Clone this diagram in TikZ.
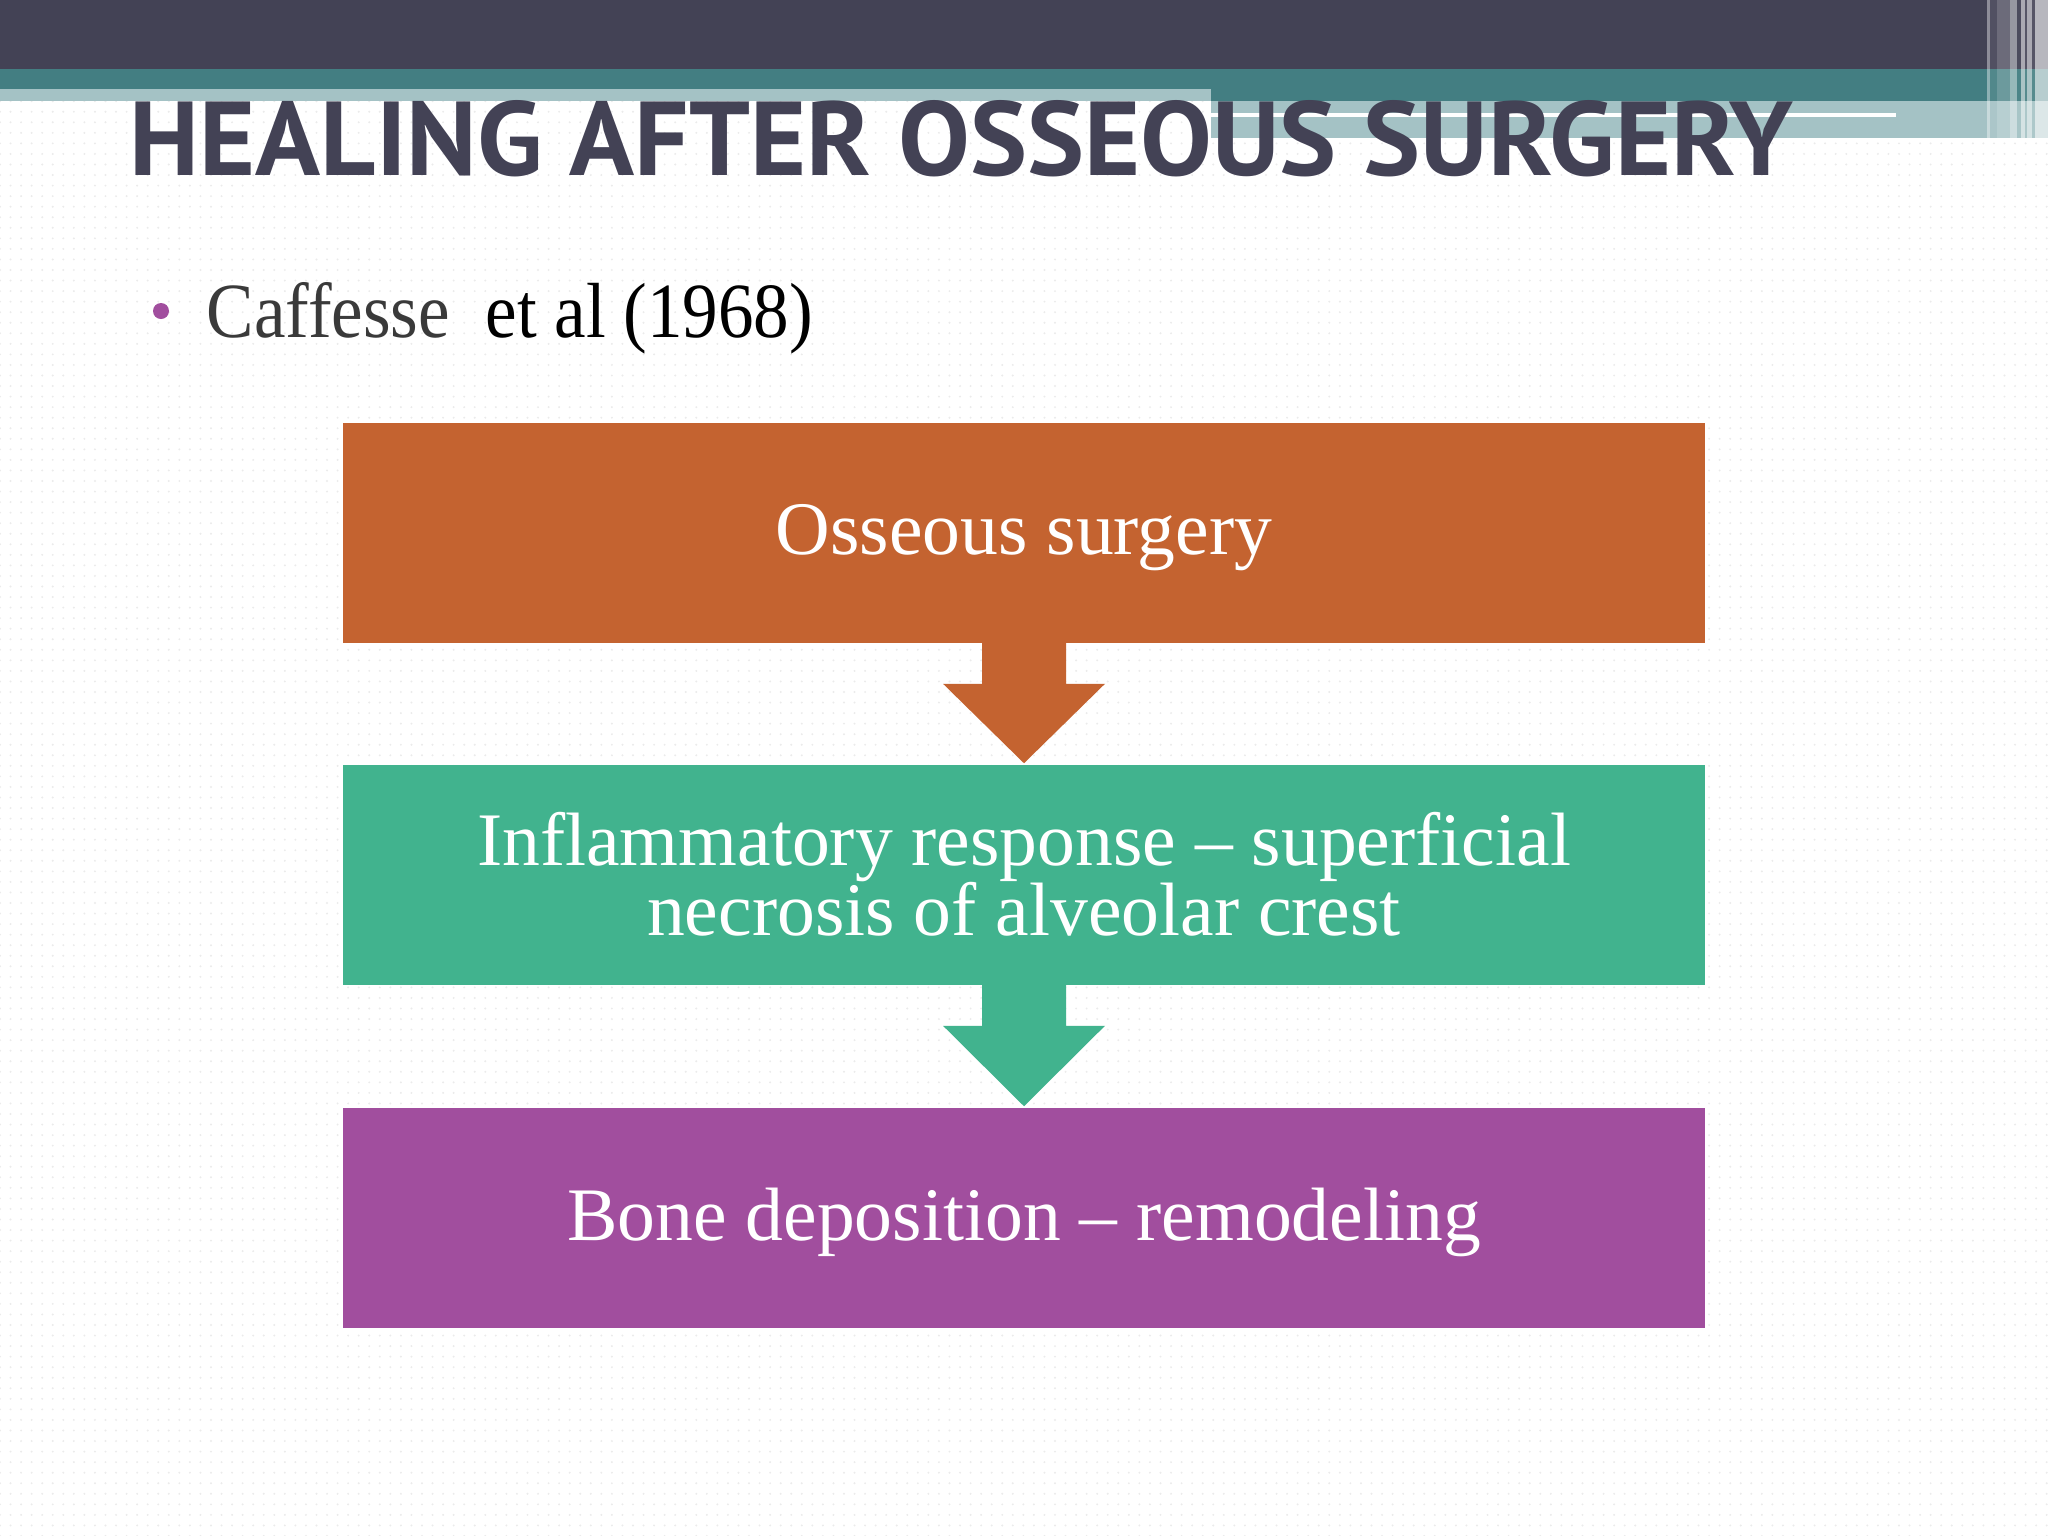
\documentclass[tikz,border=0pt]{standalone}
\usepackage{fontspec}
\setmainfont{Liberation Serif}
\newfontfamily\titlefont{PT Sans}
\usetikzlibrary{calc,patterns.meta}
\definecolor{navybar}{HTML}{434255}
\definecolor{tealbar}{HTML}{437E82}
\definecolor{lightbar}{HTML}{A4C2C5}
\definecolor{boxorange}{HTML}{C46330}
\definecolor{boxgreen}{HTML}{41B38E}
\definecolor{boxpurple}{HTML}{A14E9E}
\definecolor{bodytext}{HTML}{3A3A3A}
\tikzset{
  flowbox/.style={inner sep=0pt, minimum width=13.62cm, minimum height=2.2cm},
  flowtext/.style={inner sep=0pt, text=white, align=center, font=\fontsize{21.5}{19.9}\selectfont},
  stripe/.style={fill=white, opacity=#1}
}
\begin{document}
\begin{tikzpicture}[x=0.01cm,y=-0.01cm]
\useasboundingbox (0,0) rectangle (2048,1536);
\fill[white] (0,0) rectangle (2048,1536);
\fill[pattern={Dots[distance=3pt,radius=0.3pt]},pattern color=black!8] (0,0) rectangle (2048,1536);
% header bars
\fill[navybar] (0,0) rectangle (2048,69);
\fill[tealbar] (0,69) rectangle (1211,89);
\fill[tealbar] (1211,69) rectangle (2048,101);
\fill[lightbar] (0,89) rectangle (1211,101);
\fill[lightbar] (1211,101) rectangle (2048,138);
\fill[white] (1211,113) rectangle (1896,117);
% vertical stripes at right edge
\fill[stripe=0.4] (1987,0) rectangle (1990,138);
\fill[stripe=0.08] (1990,0) rectangle (1997,138);
\fill[stripe=0.22] (1997,0) rectangle (2010,138);
\fill[stripe=0.45] (2010,0) rectangle (2017,138);
\fill[stripe=0.05] (2017,0) rectangle (2021,138);
\fill[stripe=0.55] (2021,0) rectangle (2025,138);
\fill[stripe=0.1] (2025,0) rectangle (2027,138);
\fill[stripe=0.55] (2027,0) rectangle (2032,138);
\fill[stripe=0.1] (2032,0) rectangle (2035,138);
\fill[stripe=0.62] (2035,0) rectangle (2048,138);
% title
\node[anchor=base west, inner sep=0pt, text=navybar] (title) at (129,175)
  {\resizebox{16.62cm}{0.75cm}{\titlefont\bfseries HEALING AFTER OSSEOUS SURGERY}};
% bullet
\fill[boxpurple] (161,311) circle (8);
\node[anchor=base west, inner sep=0pt] (cite) at (206,337)
  {\resizebox{6.06cm}{0.55cm}{\textcolor{bodytext}{Caffesse}\ \ \textcolor{black}{et al (1968)}}};
% boxes
\node[flowbox, fill=boxorange] (b1) at (1024,533) {};
\node[flowbox, fill=boxgreen] (b2) at (1024,875) {};
\node[flowbox, fill=boxpurple] (b3) at (1024,1218) {};
\node[flowtext] (t1) at ($(b1.center)+(0,5)$) {Osseous surgery};
\node[flowtext] (t2) at ($(b2.center)+(0,-1)$) {Inflammatory response -- superficial\\necrosis of alveolar crest};
\node[flowtext] (t3) at ($(b3.center)+(0,4)$) {Bone deposition -- remodeling};
% block arrows
\fill[boxorange] ($(b1.south)+(-42,-1)$) -- ++(0,41) -- ++(-39,0) -- ($(b2.north)+(0,-1)$)
  -- ($(b1.south)+(81,40)$) -- ++(-39,0) -- ++(0,-41) -- cycle;
\fill[boxgreen] ($(b2.south)+(-42,-1)$) -- ++(0,41) -- ++(-39,0) -- ($(b3.north)+(0,-1)$)
  -- ($(b2.south)+(81,40)$) -- ++(-39,0) -- ++(0,-41) -- cycle;
\end{tikzpicture}
\end{document}
